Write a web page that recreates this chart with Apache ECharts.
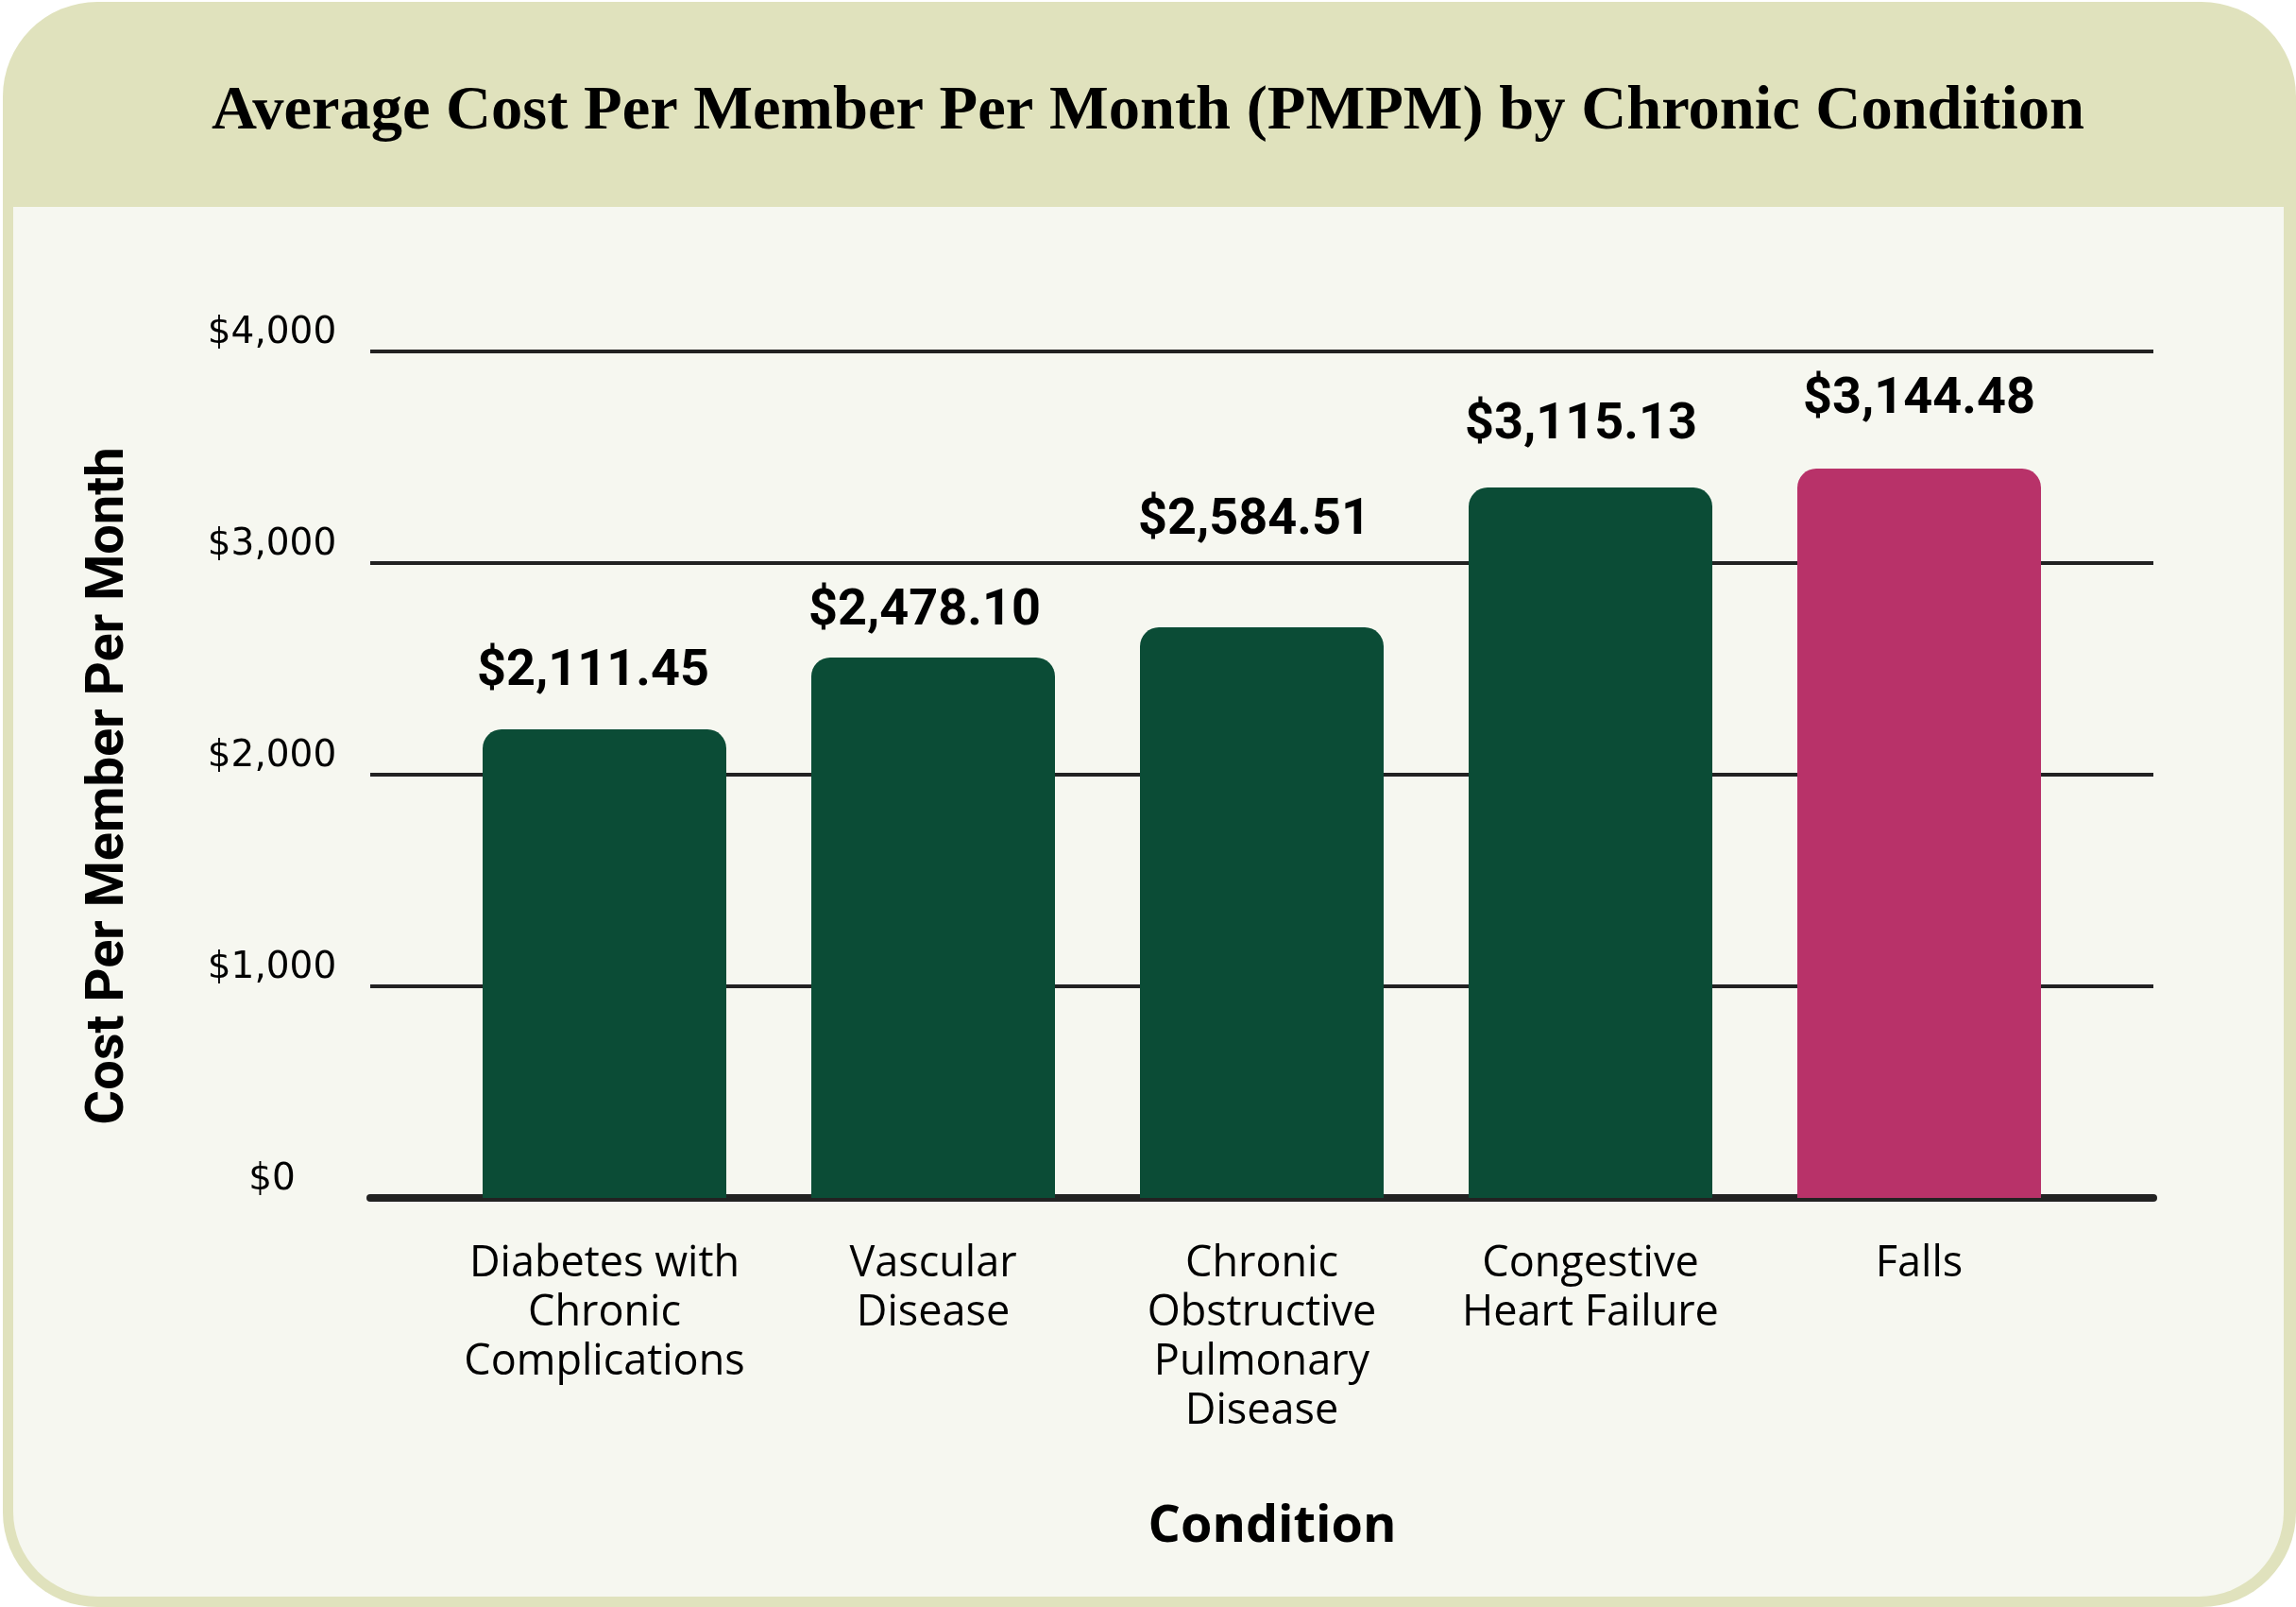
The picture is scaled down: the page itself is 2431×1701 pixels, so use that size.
<!DOCTYPE html>
<html>
<head>
<meta charset="utf-8">
<title>Average Cost Per Member Per Month (PMPM) by Chronic Condition</title>
<script src="https://cdn.jsdelivr.net/npm/echarts@6/dist/echarts.min.js"></script>
<style>
  html, body { margin: 0; padding: 0; background: #ffffff; }
  #chart { width: 2431px; height: 1701px; }
</style>
</head>
<body>
<div id="chart"></div>
<script>
const categories = [
  'Diabetes with\nChronic\nComplications',
  'Vascular\nDisease',
  'Chronic\nObstructive\nPulmonary\nDisease',
  'Congestive\nHeart Failure',
  'Falls'
]
// bar heights as drawn in the picture (they stand a little above the printed amounts)
const barHeights = [2214, 2554, 2696, 3357, 3446]
const valueLabels = ['$2,111.45', '$2,478.10', '$2,584.51', '$3,115.13', '$3,144.48']
const yTickLabels = ['$0', '$1,000', '$2,000', '$3,000', '$4,000']
const highlighted = [false, false, false, false, true]

const GREEN = '#0b4c36'
const PINK = '#b83269'
const INK = '#222222'

// value labels were placed by hand in the original
const labelGap = [34, 21, 86, 39, 46]
const labelNudge = [-12, -9, -8, -10, 0]

const chart = echarts.init(document.getElementById('chart'))

const option = {
  animation: false,
  title: {
    text: 'Average Cost Per Member Per Month (PMPM) by Chronic Condition',
    left: 'center',
    top: 80,
    textStyle: {
      fontFamily: 'Liberation Serif',
      fontWeight: 'bold',
      fontSize: 66.5,
      color: '#000'
    }
  },
  graphic: [
    {
      type: 'rect',
      z: -10,
      silent: true,
      shape: { x: 3, y: 2, width: 2428, height: 1699, r: 100 },
      style: { fill: '#e0e2bd' }
    },
    {
      type: 'rect',
      z: -9,
      silent: true,
      shape: { x: 14, y: 219, width: 2404, height: 1471, r: [0, 0, 90, 90] },
      style: { fill: '#f6f7f0' }
    }
  ],
  grid: [
    // gridlines + y labels
    { left: 392, right: 151, top: 372, bottom: 433 },
    // bars + category labels
    { left: 466, width: 1740, top: 372, bottom: 433 }
  ],
  xAxis: [
    {
      gridIndex: 0,
      type: 'value',
      min: 0,
      max: 1,
      axisLine: { show: true, lineStyle: { color: INK, width: 8 } },
      axisTick: { show: false },
      axisLabel: { show: false },
      splitLine: { show: false }
    },
    {
      gridIndex: 1,
      type: 'category',
      data: categories,
      axisLine: { show: false },
      axisTick: { show: false },
      axisLabel: {
        interval: 0,
        margin: 44,
        fontFamily: 'Open Sans',
        fontSize: 45,
        lineHeight: 52,
        color: '#000'
      },
      name: 'Condition',
      nameLocation: 'middle',
      nameGap: 322,
      nameTextStyle: {
        fontFamily: 'Open Sans',
        fontWeight: 'bold',
        fontSize: 54,
        color: '#000',
        padding: [0, 0, 0, 22]
      }
    }
  ],
  yAxis: [
    {
      gridIndex: 0,
      type: 'value',
      min: 0,
      max: 4000,
      interval: 1000,
      axisLine: { show: false },
      axisTick: { show: false },
      splitLine: { show: true, lineStyle: { color: INK, width: 4 } },
      axisLabel: {
        formatter: (v) => yTickLabels[v / 1000],
        align: 'center',
        verticalAlign: 'bottom',
        lineHeight: 38,
        margin: 104,
        fontFamily: 'DejaVu Sans',
        fontSize: 39,
        color: '#000'
      },
      name: 'Cost Per Member Per Month',
      nameLocation: 'middle',
      nameRotate: 90,
      nameGap: 248,
      nameTextStyle: {
        fontFamily: 'Roboto',
        fontWeight: 'bold',
        fontSize: 56,
        color: '#000',
        padding: [0, 24, 0, 0]
      }
    },
    {
      gridIndex: 1,
      type: 'value',
      min: 0,
      max: 4000,
      interval: 1000,
      show: false
    }
  ],
  series: [
    {
      type: 'bar',
      xAxisIndex: 1,
      yAxisIndex: 1,
      barWidth: 258,
      itemStyle: { borderRadius: [20, 20, 0, 0] },
      label: {
        show: true,
        position: 'top',
        formatter: (p) => valueLabels[p.dataIndex],
        fontFamily: 'Roboto',
        fontWeight: 'bold',
        fontSize: 54,
        color: '#000'
      },
      data: barHeights.map((v, i) => ({
        value: v,
        itemStyle: { color: highlighted[i] ? PINK : GREEN },
        label: { distance: labelGap[i], offset: [labelNudge[i], 0] }
      }))
    }
  ]
}

chart.setOption(option)
</script>
</body>
</html>
